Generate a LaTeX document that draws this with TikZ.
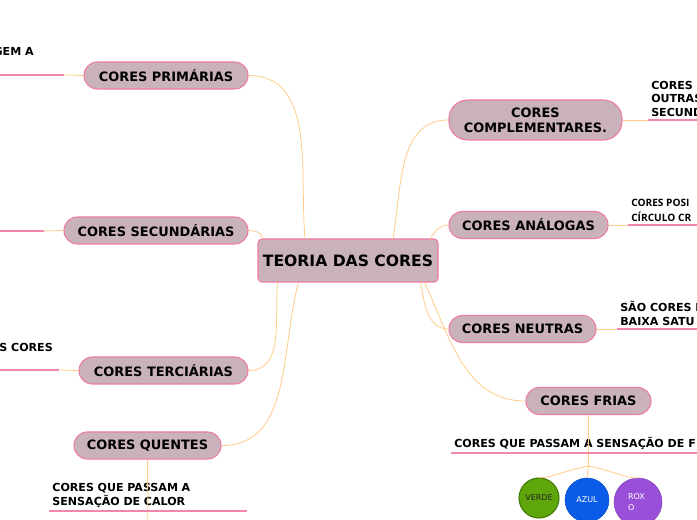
\documentclass[tikz,border=0pt]{standalone}
\usepackage{fontspec}
\setmainfont{DejaVu Sans}
\newfontfamily\opensans{Open Sans}
\usetikzlibrary{positioning,calc}
\definecolor{mauve}{HTML}{C9B2BB}
\definecolor{rim}{HTML}{EE7BA3}
\definecolor{underpink}{HTML}{F286AD}
\definecolor{twig}{HTML}{FFCC88}
\definecolor{verdefill}{HTML}{5FA60A}
\definecolor{verderim}{HTML}{3F7A08}
\definecolor{azulfill}{HTML}{0A5CE8}
\definecolor{roxofill}{HTML}{9A4FD8}
\newcommand{\notefont}{\fontsize{8.3}{10}\selectfont\bfseries}

\begin{document}
\begin{tikzpicture}[x=0.75pt, y=0.75pt,
  topic/.style={draw=rim, fill=mauve, line width=0.8pt, rounded corners=10pt, minimum height=20.25pt, inner sep=0pt, align=center, font=\fontsize{9.7}{11.5}\selectfont\bfseries},
  rootbox/.style={topic, rounded corners=3pt, font=\fontsize{11.7}{14}\selectfont\bfseries},
  note/.style={align=left, inner xsep=2.25pt, inner ysep=2.5pt, font=\notefont},
  link/.style={draw=twig, line width=0.6pt},
  underline/.style={draw=underpink, line width=1.4pt},
  dot/.style={circle, inner sep=0pt, font=\fontsize{6}{8.5}\selectfont}]
  \useasboundingbox (0,0) rectangle (697,-520);
  \clip (0,0) rectangle (697,-520);

  % central topic and main branches
  \node[rootbox, minimum width=135pt, minimum height=32.25pt] (root) at (348,-260.5) {TEORIA DAS CORES};
  \node[topic, minimum width=123pt] (prim) at (166,-75.5) {CORES PRIMÁRIAS};
  \node[topic, minimum width=138pt] (sec) at (156,-230.5) {CORES SECUNDÁRIAS};
  \node[topic, minimum width=126.75pt] (terc) at (163.5,-370.5) {CORES TERCIÁRIAS};
  \node[topic, minimum width=110.25pt] (quent) at (147.5,-445.5) {CORES QUENTES};
  \node[topic, minimum width=129.75pt, minimum height=30pt, rounded corners=14pt] (compl) at (535.5,-120) {CORES\\COMPLEMENTARES.};
  \node[topic, minimum width=119.25pt] (anal) at (528.5,-225) {CORES ANÁLOGAS};
  \node[topic, minimum width=110.25pt] (neut) at (522.5,-329) {CORES NEUTRAS};
  \node[topic, minimum width=93.75pt] (frias) at (588.5,-401) {CORES FRIAS};

  \draw[link] ($(root.north)+(-43,0)$) to[out=95,in=0] (prim.east);
  \draw[link] ($(root.north west)+(5,0)$) to[out=90,in=0] (sec.east);
  \draw[link] ($(root.south west)+(20,0)$) to[out=-95,in=0] (terc.east);
  \draw[link] ($(root.south west)+(41,0)$) to[out=-105,in=0] (quent.east);
  \draw[link] ($(root.north)+(45,0)$) to[out=80,in=180] (compl.west);
  \draw[link] ($(root.north east)+(-8,0)$) to[out=60,in=180] (anal.west);
  \draw[link] ($(root.south east)+(-18,0)$) to[out=-80,in=180] (neut.west);
  \draw[link] ($(root.south east)+(-14,0)$) to[out=-65,in=180] (frias.west);

  % notes on the left
  \coordinate (primFoot) at (64,-75);
  \coordinate (primEdge) at (0,-75);
  \node[note, anchor=base east] (primNote) at (37,-56) {GEM A};
  \draw[link] (prim.west) -- (primFoot);
  \draw[underline] (primFoot) -- (primEdge);

  \coordinate (secFoot) at (44,-231);
  \coordinate (secEdge) at (0,-231);
  \draw[link] (sec.west) -- (secFoot);
  \draw[underline] (secFoot) -- (secEdge);

  \coordinate (tercFoot) at (59,-370);
  \coordinate (tercEdge) at (0,-370);
  \node[note, anchor=base east] (tercNote) at (56,-352) {S CORES};
  \draw[link] (terc.west) -- (tercFoot);
  \draw[underline] (tercFoot) -- (tercEdge);

  \node[note, anchor=south west, minimum width=147.75pt, text width=143pt] (quentNote) at (49,-511) {CORES QUE PASSAM A\\SENSAÇÃO DE CALOR};
  \coordinate (quentDown) at (147.5,-530);
  \draw[link] (quent.south) -- (quentNote.south);
  \draw[link] (quentNote.south) -- (quentDown);
  \draw[underline] (quentNote.south west) -- (quentNote.south east);

  % notes on the right
  \coordinate (complFoot) at (648,-120);
  \coordinate (complEdge) at (697,-120);
  \node[note, anchor=south west] (complNote) at (complFoot) {CORES\\OUTRAS\\SECUND};
  \draw[link] (compl.east) -- (complFoot);
  \draw[underline] (complFoot) -- (complEdge);

  \coordinate (analFoot) at (628,-225);
  \coordinate (analEdge) at (697,-225);
  \node[note, anchor=south west, font=\opensans\fontsize{7.6}{11}\selectfont\bfseries] (analNote) at (analFoot) {CORES POSI\\CÍRCULO CR};
  \draw[link] (anal.east) -- (analFoot);
  \draw[underline] (analFoot) -- (analEdge);

  \coordinate (neutFoot) at (617,-329);
  \coordinate (neutEdge) at (697,-329);
  \node[note, anchor=south west] (neutNote) at (neutFoot) {SÃO CORES I\\BAIXA SATU};
  \draw[link] (neut.east) -- (neutFoot);
  \draw[underline] (neutFoot) -- (neutEdge);

  \coordinate (friasFoot) at (451,-453);
  \coordinate (friasEdge) at (697,-453);
  \coordinate (friasJoin) at (588.5,-453);
  \coordinate (friasFork) at (588.5,-466);
  \node[note, anchor=south west] (friasNote) at (friasFoot) {CORES QUE PASSAM A SENSAÇÃO DE F};
  \draw[link] (frias.south) -- (friasJoin) -- (friasFork);
  \draw[underline] (friasFoot) -- (friasEdge);

  % cold colours
  \node[dot, draw=verderim, line width=0.8pt, fill=verdefill, minimum size=30pt, text=black!85] (verde) at (539,-498) {VERDE};
  \node[dot, draw=azulfill!85!black, line width=0.4pt, fill=azulfill, minimum size=33pt, text=white] (azul) at (587,-500) {AZUL};
  \node[dot, draw=roxofill!85!black, line width=0.4pt, fill=roxofill, minimum size=36pt, text=white, text width=15pt, align=left] (roxo) at (638,-502) {ROX\\O};
  \draw[link] (friasFork) .. controls ($(friasFork)+(-25,-5)$) and ($(verde.north)+(6,-2)$) .. (verde.north);
  \draw[link] (friasFork) -- (azul.north);
  \draw[link] (friasFork) .. controls ($(friasFork)+(25,-5)$) and ($(roxo.north)+(-8,-2)$) .. (roxo.north);
\end{tikzpicture}
\end{document}
